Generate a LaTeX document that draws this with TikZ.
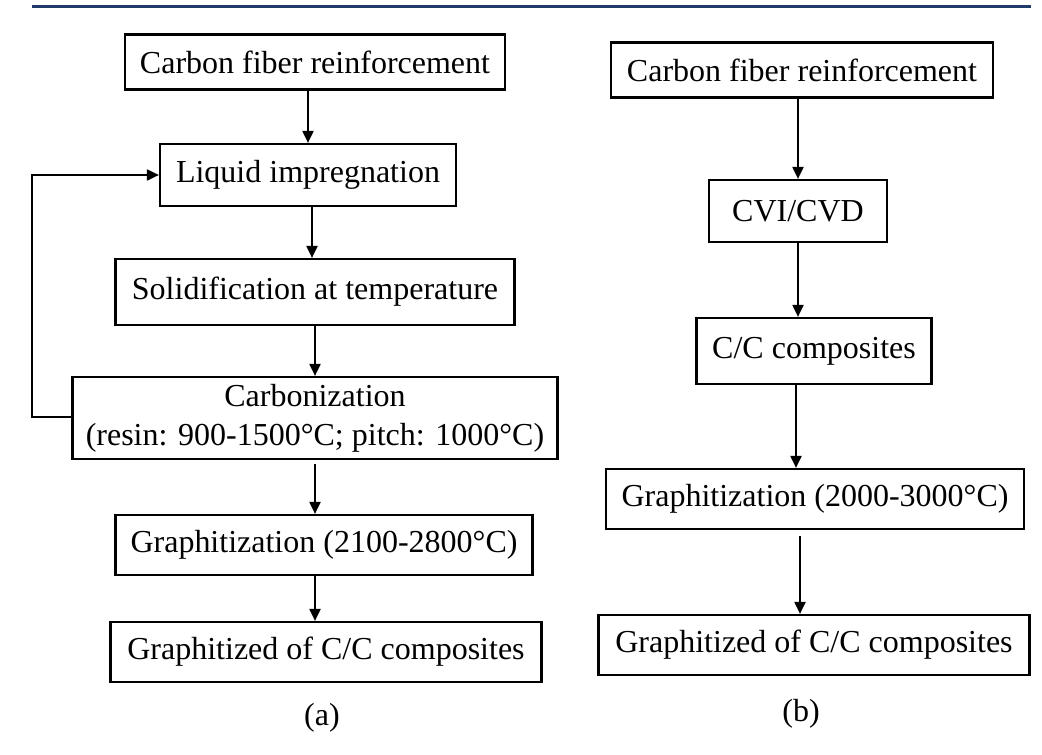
\documentclass[tikz,border=0pt]{standalone}
\usepackage{fontspec}
\setmainfont{Liberation Serif}
\usetikzlibrary{arrows.meta}
\definecolor{topblue}{HTML}{1F3A6B}
\begin{document}
\begin{tikzpicture}[x=1pt,y=-1pt,
  bx/.style={draw,line width=2.2pt,inner sep=0pt,font=\fontsize{32}{39}\selectfont,align=center},
  arr/.style={line width=2pt,-{Triangle[length=12pt,width=11pt]}}]
\useasboundingbox (0,0) rectangle (1042,755);
\draw[topblue,line width=3pt] (32,6) -- (1031,6);
% left
\node[bx,minimum width=380pt,minimum height=55pt] (a1) at (315,62) {Carbon fiber reinforcement};
\node[bx,minimum width=296pt,minimum height=62pt] (a2) at (308,175) {Liquid impregnation};
\node[bx,minimum width=399pt,minimum height=66pt] (a3) at (315,292) {Solidification at temperature};
\node[bx,minimum width=485pt,minimum height=82pt] (a4) at (315,418) {Carbonization\\(resin: 900-1500°C; pitch: 1000°C)};
\node[bx,minimum width=417pt,minimum height=60pt] (a5) at (324,545) {Graphitization (2100-2800°C)};
\node[bx,minimum width=431pt,minimum height=60pt] (a6) at (326,652) {Graphitized of C/C composites};
\node[font=\fontsize{32}{39}\selectfont] (la) at (322,718) {(a)};
\draw[arr] (a1.south -| 308,0) -- (a2.north -| 308,0);
\draw[arr] (a2.south -| 312,0) -- (a3.north -| 312,0);
\draw[arr] (a3.south -| 315,0) -- (a4.north -| 315,0);
\draw[arr] ([yshift=-4pt]a4.south -| 315,0) -- (a5.north -| 315,0);
\draw[arr] (a5.south -| 315,0) -- (a6.north -| 315,0);
\coordinate (lp) at (32,417);
\draw[arr] (a4.west |- lp) -- (lp) |- (a2.west);
% right
\node[bx,minimum width=382pt,minimum height=55pt] (b1) at (802,70) {Carbon fiber reinforcement};
\node[bx,minimum width=178pt,minimum height=62pt] (b2) at (798,211) {CVI/CVD};
\node[bx,minimum width=235pt,minimum height=66pt] (b3) at (814,351) {C/C composites};
\node[bx,minimum width=418pt,minimum height=60pt] (b4) at (815,499) {Graphitization (2000-3000°C)};
\node[bx,minimum width=431pt,minimum height=60pt] (b5) at (814,645) {Graphitized of C/C composites};
\node[font=\fontsize{32}{39}\selectfont] (lb) at (801,714) {(b)};
\draw[arr] (b1.south -| 798,0) -- (b2.north -| 798,0);
\draw[arr] (b2.south -| 798,0) -- (b3.north -| 798,0);
\draw[arr] (b3.south -| 796,0) -- (b4.north -| 796,0);
\draw[arr] ([yshift=-6pt]b4.south -| 800,0) -- (b5.north -| 800,0);
\end{tikzpicture}
\end{document}
